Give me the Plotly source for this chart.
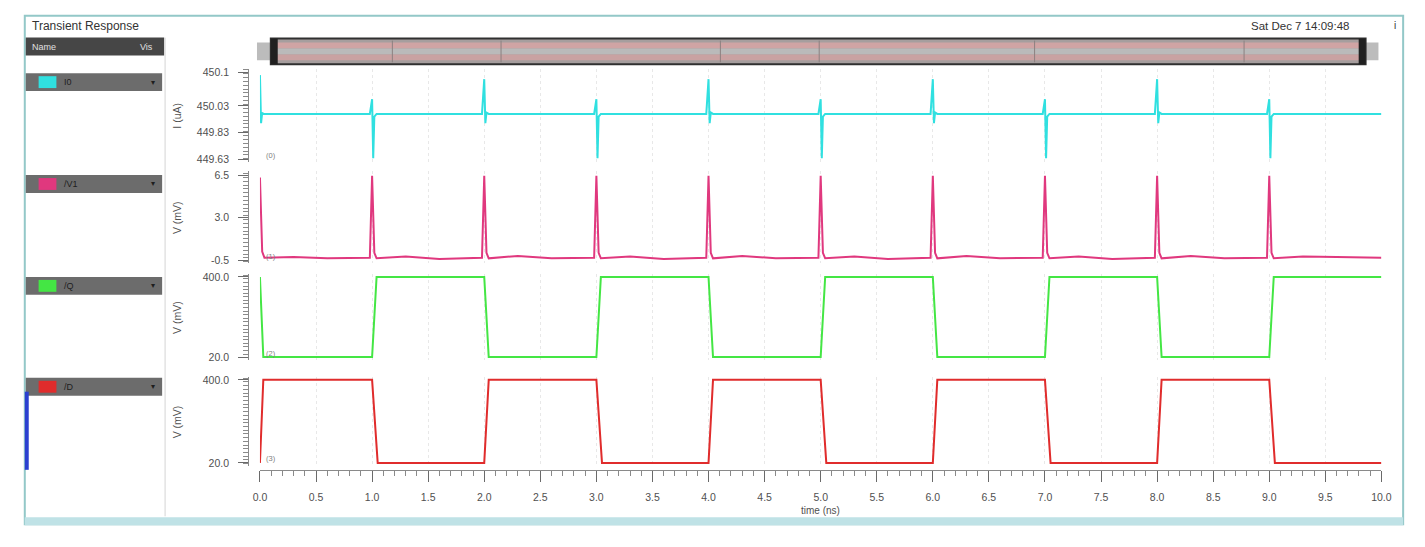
import plotly.graph_objects as go

W, H = 1425, 547

# ---------------- data ----------------
time_ticks = [0.0, 0.5, 1.0, 1.5, 2.0, 2.5, 3.0, 3.5, 4.0, 4.5, 5.0, 5.5, 6.0, 6.5, 7.0, 7.5, 8.0, 8.5, 9.0, 9.5, 10.0]
time_tick_text = ["0.0", "0.5", "1.0", "1.5", "2.0", "2.5", "3.0", "3.5", "4.0", "4.5", "5.0",
                  "5.5", "6.0", "6.5", "7.0", "7.5", "8.0", "8.5", "9.0", "9.5", "10.0"]

# cyan current signal (uA)
i0_t = [0.0, 0.01, 0.02, 0.03, 0.98, 1.0, 1.01, 1.02, 1.04, 1.98, 2.0, 2.01, 2.02, 2.04,
        2.98, 3.0, 3.01, 3.02, 3.04, 3.98, 4.0, 4.01, 4.02, 4.04, 4.98, 5.0, 5.01, 5.02, 5.04,
        5.98, 6.0, 6.01, 6.02, 6.04, 6.98, 7.0, 7.01, 7.02, 7.04, 7.98, 8.0, 8.01, 8.02, 8.04,
        8.98, 9.0, 9.01, 9.02, 9.04, 10.0]
i0_v = [450.26, 449.90, 449.98, 449.97, 449.97, 450.08, 449.637, 449.95, 449.97, 449.97, 450.23, 449.90, 449.98, 449.97,
        449.97, 450.08, 449.637, 449.95, 449.97, 449.97, 450.23, 449.90, 449.98, 449.97, 449.97, 450.08, 449.637, 449.95, 449.97,
        449.97, 450.23, 449.90, 449.98, 449.97, 449.97, 450.08, 449.637, 449.95, 449.97, 449.97, 450.23, 449.90, 449.98, 449.97,
        449.97, 450.08, 449.637, 449.95, 449.97, 449.97]
i0_ticks = [449.63, 449.83, 450.03, 450.28]
i0_tick_text = ["449.63", "449.83", "450.03", "450.1"]

# magenta voltage spikes (mV)
v1_t = [0.0, 0.02, 0.04, 0.3, 0.6, 0.98, 1.0, 1.02, 1.04, 1.3, 1.6, 1.98, 2.0, 2.02, 2.04, 2.3, 2.6,
        2.98, 3.0, 3.02, 3.04, 3.3, 3.6, 3.98, 4.0, 4.02, 4.04, 4.3, 4.6, 4.98, 5.0, 5.02, 5.04, 5.3, 5.6,
        5.98, 6.0, 6.02, 6.04, 6.3, 6.6, 6.98, 7.0, 7.02, 7.04, 7.3, 7.6, 7.98, 8.0, 8.02, 8.04, 8.3, 8.6,
        8.98, 9.0, 9.02, 9.04, 9.3, 9.6, 10.0]
v1_v = [6.3, 0.2, -0.3, -0.25, -0.35, -0.3, 6.45, 0.1, -0.35, -0.2, -0.4, -0.3, 6.45, 0.1, -0.35, -0.15, -0.35,
        -0.3, 6.45, 0.1, -0.35, -0.2, -0.4, -0.3, 6.45, 0.1, -0.35, -0.15, -0.35, -0.3, 6.45, 0.1, -0.35, -0.2, -0.4,
        -0.3, 6.45, 0.1, -0.35, -0.15, -0.35, -0.3, 6.45, 0.1, -0.35, -0.2, -0.4, -0.3, 6.45, 0.1, -0.35, -0.15, -0.35,
        -0.3, 6.45, 0.1, -0.35, -0.2, -0.25, -0.3]
v1_ticks = [-0.5, 3.0, 6.5]
v1_tick_text = ["-0.5", "3.0", "6.5"]

# green square wave (mV)
q_t = [0.0, 0.03, 1.0, 1.04, 2.0, 2.04, 3.0, 3.04, 4.0, 4.04, 5.0, 5.04, 6.0, 6.04, 7.0, 7.04, 8.0, 8.04, 9.0, 9.04, 10.0]
q_v = [400, 20, 20, 400, 400, 20, 20, 400, 400, 20, 20, 400, 400, 20, 20, 400, 400, 20, 20, 400, 400]

# red square wave (mV)
d_t = [0.0, 0.03, 1.0, 1.05, 2.0, 2.04, 3.0, 3.05, 4.0, 4.04, 5.0, 5.05, 6.0, 6.04, 7.0, 7.05, 8.0, 8.04, 9.0, 9.05, 10.0]
d_v = [20, 400, 400, 20, 20, 400, 400, 20, 20, 400, 400, 20, 20, 400, 400, 20, 20, 400, 400, 20, 20]
sq_ticks = [20, 400]
sq_tick_text = ["20.0", "400.0"]

signal_names = ["I0", "/V1", "/Q", "/D"]
signal_colors = ["#30e0e0", "#e0387e", "#44e644", "#e02c2c"]
y_titles = ["I (uA)", "V (mV)", "V (mV)", "V (mV)"]

# ---------------- layout helpers (reference pixel geometry) ----------------
def px_x(p):
    return p / W

def px_y(p):
    return 1 - p / H

x0p, x1p = 256, 1391
# (value_a, px_a, value_b, px_b, domain_top_px, domain_bottom_px)
strip_geo = [
    (449.83, 131, 449.63, 158, 67, 161),
    (6.5, 174, -0.5, 260, 170, 263),
    (400, 277, 20, 358, 274, 361),
    (400, 381, 20, 465, 378, 468),
]

def strip_range(va, pa, vb, pb, top, bot):
    s = (va - vb) / (pb - pa)
    return [vb - (bot - pb) * s, va + (pa - top) * s], s

fig = go.Figure()
series = [(i0_t, i0_v), (v1_t, v1_v), (q_t, q_v), (d_t, d_v)]
tickinfo = [(i0_ticks, i0_tick_text), (v1_ticks, v1_tick_text),
            (sq_ticks, sq_tick_text), (sq_ticks, sq_tick_text)]

font_fam = "Liberation Sans, Arial, sans-serif"
tick_font = dict(family=font_fam, size=10.5, color="#505050")

annotations = []
shapes = []

def text(s, x, y, anchor="left", size=9, color="#333", angle=0):
    return dict(text=s, xref="paper", yref="paper", x=px_x(x), y=px_y(y), xanchor=anchor, yanchor="middle",
                showarrow=False, textangle=angle, font=dict(family=font_fam, size=size, color=color))

for k in range(4):
    xa = "x" if k == 0 else f"x{k+1}"
    ya = "y" if k == 0 else f"y{k+1}"
    t, v = series[k]
    fig.add_trace(go.Scatter(x=t, y=v, xaxis=xa, yaxis=ya, mode="lines",
                             line=dict(color=signal_colors[k], width=2),
                             showlegend=False, hoverinfo="skip"))
    xkey = "xaxis" if k == 0 else f"xaxis{k+1}"
    ykey = "yaxis" if k == 0 else f"yaxis{k+1}"
    va, pa, vb, pb, top, bot = strip_geo[k]
    rng, s = strip_range(va, pa, vb, pb, top, bot)
    last = (k == 3)
    xcfg = dict(
        domain=[px_x(x0p), px_x(x1p)], range=[0, 10],
        showgrid=True, gridcolor="#e8e8e8", griddash="dot", gridwidth=1,
        tickvals=time_ticks, zeroline=False, showticklabels=False, ticks="",
        fixedrange=True,
    )
    if last:
        xcfg.update(
            anchor="free", position=px_y(472),
            ticktext=time_tick_text, showticklabels=True,
            ticks="outside", ticklen=11, tickcolor="#6a6a6a",
            showline=True, linecolor="#8a8a8a", linewidth=1,
            minor=dict(dtick=0.1, ticks="outside", ticklen=5, tickcolor="#8a8a8a", showgrid=False),
            tickfont=tick_font, ticklabelstandoff=7,
        )
    else:
        xcfg.update(anchor=ya)
    fig.layout[xkey] = xcfg
    tv, tt = tickinfo[k]
    fig.layout[ykey] = dict(
        domain=[px_y(bot), px_y(top)], range=rng, anchor="free", position=px_x(244),
        tickvals=tv, ticktext=tt, ticks="outside", ticklen=10, tickcolor="#6a6a6a",
        showline=True, linecolor="#8a8a8a", linewidth=1, showgrid=False, zeroline=False,
        minor=dict(dtick=(rng[1] - rng[0]) / 24, ticks="outside", ticklen=5, tickcolor="#8a8a8a"),
        tickfont=tick_font, ticklabelstandoff=7,
        fixedrange=True,
    )
    annotations.append(text(y_titles[k], 172, (top + bot) / 2, anchor="center", size=10.5,
                            color="#505050", angle=-90))
    annotations.append(text(f"({k})", 260, bot - 7, size=7.5, color="#808080"))

annotations.append(text("time (ns)", 823, 513, anchor="center", size=10, color="#505050"))

def rect(x0, y0, x1, y1, fill=None, line=None, layer="above"):
    d = dict(type="rect", xref="paper", yref="paper", x0=px_x(x0), x1=px_x(x1), y0=px_y(y1), y1=px_y(y0),
             layer=layer)
    d["line"] = line if line else dict(width=0)
    if fill:
        d["fillcolor"] = fill
    return d

# window frame
shapes.append(rect(18, 13, 1413, 527, line=dict(color="#93c8c8", width=2), layer="below"))
shapes.append(rect(18, 520, 1413, 528, fill="#bfe2e6", layer="below"))
annotations.append(text("Transient Response", 23, 23, size=12, color="#333"))
annotations.append(text("Sat Dec 7 14:09:48", 1360, 23, anchor="right", size=11.5, color="#333"))
annotations.append(text("i", 1408, 23, anchor="right", size=10, color="#333"))
# left panel
shapes.append(dict(type="line", xref="paper", yref="paper", x0=px_x(160), x1=px_x(160), y0=px_y(519), y1=px_y(35),
                   line=dict(color="#d4d4d4", width=1)))
shapes.append(rect(19, 35, 159, 53, fill="#464646"))
annotations.append(text("Name", 23, 44, size=9, color="#e0e0e0"))
annotations.append(text("Vis", 150, 44, anchor="right", size=9, color="#e0e0e0"))
row_tops = [71, 174, 277, 379]
for k in range(4):
    rt = row_tops[k]
    shapes.append(rect(19, rt, 157, rt + 18, fill="#6c6c6c"))
    shapes.append(rect(32, rt + 3, 50, rt + 15, fill=signal_colors[k]))
    annotations.append(text(signal_names[k], 56, rt + 9, size=9, color="#1e1e1e"))
    annotations.append(text("▾", 152, rt + 9, anchor="right", size=8, color="#1e1e1e"))
shapes.append(rect(18, 393, 22, 472, fill="#2a40d0"))
# top scroll bar
shapes.append(rect(253, 40, 1388, 58, fill="#bcbcbc"))
shapes.append(rect(267, 36, 1375, 62, fill="#a69e9e", line=dict(color="#303030", width=2)))
shapes.append(rect(272, 40, 1370, 46, fill="#d0a4a4"))
shapes.append(rect(272, 46, 1370, 52, fill="#bababa"))
shapes.append(rect(272, 52, 1370, 58, fill="#c9a2a2"))
for xe in [267, 1368]:
    shapes.append(rect(xe, 36, xe + 7, 62, fill="#202020"))
for xd in [390, 500, 722, 822, 1040, 1252]:
    shapes.append(dict(type="line", xref="paper", yref="paper", x0=px_x(xd), x1=px_x(xd), y0=px_y(60), y1=px_y(38),
                       line=dict(color="#8c8080", width=1)))

fig.update_layout(
    autosize=True, margin=dict(l=0, r=0, t=0, b=0),
    paper_bgcolor="white", plot_bgcolor="white",
    shapes=shapes, annotations=annotations, showlegend=False,
)

fig.write_html(
    "out.html",
    default_width="100vw", default_height="100vh",
    config={"displayModeBar": False, "responsive": True},
    post_script=("document.body.style.margin='0';document.body.style.overflow='hidden';"
                 "Plotly.Plots.resize(document.getElementById('{plot_id}'));"),
)
